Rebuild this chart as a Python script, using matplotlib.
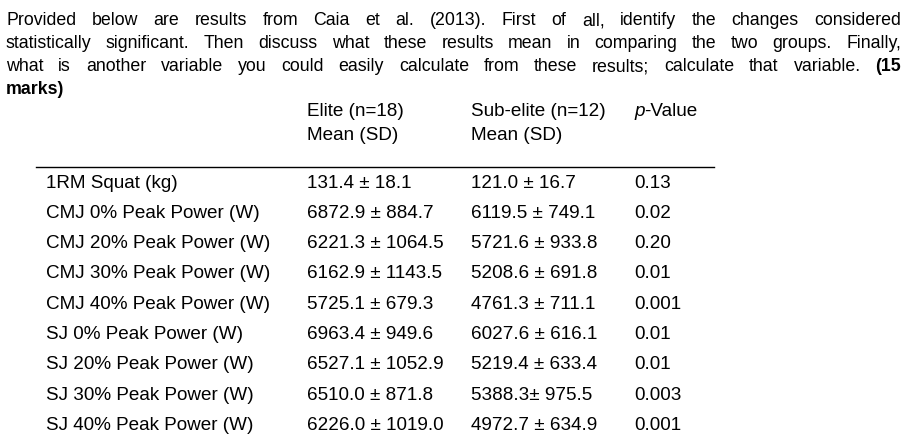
import matplotlib
matplotlib.use("Agg")
import matplotlib.pyplot as plt
from matplotlib.lines import Line2D

W, H = 907, 444
para_lines = [
    "Provided below are results from Caia et al. (2013). First of all, identify the changes considered",
    "statistically significant. Then discuss what these results mean in comparing the two groups. Finally,",
    "what is another variable you could easily calculate from these results; calculate that variable.",
]
bold_tail = "(15"
last_line = "marks)"

rows = ["1RM Squat (kg)", "CMJ 0% Peak Power (W)", "CMJ 20% Peak Power (W)",
        "CMJ 30% Peak Power (W)", "CMJ 40% Peak Power (W)", "SJ 0% Peak Power (W)",
        "SJ 20% Peak Power (W)", "SJ 30% Peak Power (W)", "SJ 40% Peak Power (W)"]
elite = ["131.4 ± 18.1", "6872.9 ± 884.7", "6221.3 ± 1064.5", "6162.9 ± 1143.5",
         "5725.1 ± 679.3", "6963.4 ± 949.6", "6527.1 ± 1052.9", "6510.0 ± 871.8",
         "6226.0 ± 1019.0"]
subelite = ["121.0 ± 16.7", "6119.5 ± 749.1", "5721.6 ± 933.8", "5208.6 ± 691.8",
            "4761.3 ± 711.1", "6027.6 ± 616.1", "5219.4 ± 633.4", "5388.3± 975.5",
            "4972.7 ± 634.9"]
pvals = ["0.13", "0.02", "0.20", "0.01", "0.001", "0.01", "0.01", "0.003", "0.001"]

fig = plt.figure(figsize=(W/100, H/100), dpi=100)
fig.patch.set_facecolor("white")
FONT = "Liberation Sans"
PFS = 12.8
TFS = 13.6

def fy(y): return 1 - y/H
def fx(x): return x/W

renderer = fig.canvas.get_renderer()

def width_of(s, weight="normal", fs=PFS):
    t = fig.text(0, 0, s, fontsize=fs, family=FONT, weight=weight)
    w = t.get_window_extent(renderer).width
    t.remove()
    return w

left, right = 6, 901
line_y = [25, 48, 71]
for i, line in enumerate(para_lines):
    words = line.split(" ")
    styles = ["normal"]*len(words)
    if i == 2:
        words.append(bold_tail); styles.append("bold")
    widths = [width_of(w, s) for w, s in zip(words, styles)]
    gap = (right - left - sum(widths)) / (len(words) - 1)
    x = left
    for w, s, wd in zip(words, styles, widths):
        fig.text(fx(x), fy(line_y[i]), w, fontsize=PFS, family=FONT, weight=s, va="baseline")
        x += wd + gap
fig.text(fx(left), fy(94), last_line, fontsize=PFS, family=FONT, weight="bold", va="baseline")

cx = [46, 307, 471, 634]
fig.text(fx(cx[1]), fy(112), "Elite (n=18)", fontsize=TFS, family=FONT, va="center")
fig.text(fx(cx[1]), fy(135), "Mean (SD)", fontsize=TFS, family=FONT, va="center")
fig.text(fx(cx[2]), fy(112), "Sub-elite (n=12)", fontsize=TFS, family=FONT, va="center")
fig.text(fx(cx[2]), fy(135), "Mean (SD)", fontsize=TFS, family=FONT, va="center")
pt = fig.text(fx(cx[3]), fy(112), "p", fontsize=TFS, family=FONT, style="italic", va="center")
pw = pt.get_window_extent(renderer).width
fig.text(fx(cx[3] + pw), fy(112), "-Value", fontsize=TFS, family=FONT, va="center")

fig.add_artist(Line2D([fx(36), fx(714)], [fy(167), fy(167)], color="black", lw=1.0))

for i in range(len(rows)):
    y = 183 + i*30.3
    for x, s in zip(cx, [rows[i], elite[i], subelite[i], pvals[i]]):
        fig.text(fx(x), fy(y), s, fontsize=TFS, family=FONT, va="center")

fig.savefig("out.png", dpi=100, facecolor="white")
